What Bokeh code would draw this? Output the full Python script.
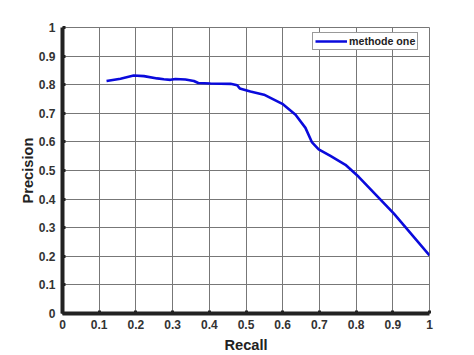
from bokeh.plotting import figure
from bokeh.models import FixedTicker, Range1d, Legend, LegendItem
from bokeh.embed import file_html
from bokeh.resources import INLINE

recall = [0.12, 0.158, 0.194, 0.222, 0.258, 0.276, 0.294, 0.308, 0.335, 0.358, 0.37, 0.403,
          0.458, 0.476, 0.483, 0.512, 0.549, 0.599, 0.635, 0.662, 0.68, 0.698, 0.73, 0.771,
          0.807, 0.903, 1.0]
precision = [0.813, 0.821, 0.832, 0.830, 0.822, 0.819, 0.817, 0.820, 0.818, 0.813, 0.806, 0.804,
             0.803, 0.798, 0.787, 0.776, 0.765, 0.733, 0.695, 0.649, 0.598, 0.574, 0.551, 0.520,
             0.478, 0.349, 0.203]
ticks = [0, 0.1, 0.2, 0.3, 0.4, 0.5, 0.6, 0.7, 0.8, 0.9, 1]
tick_labels = ["0", "0.1", "0.2", "0.3", "0.4", "0.5", "0.6", "0.7", "0.8", "0.9", "1"]
series_name = "methode one"

p = figure(width=474, height=355, output_backend="svg", toolbar_location=None,
           x_range=Range1d(0, 1), y_range=Range1d(0, 1),
           min_border_left=62, min_border_right=45, min_border_top=27, min_border_bottom=39)
p.background_fill_color = "white"
p.border_fill_color = "white"
p.outline_line_color = "#777777"
p.outline_line_width = 1

r = p.line(recall, precision, line_color="#0a0adc", line_width=2.6)

font = "Liberation Sans"
overrides = {t: l for t, l in zip(ticks, tick_labels)}
for ax in (p.xaxis[0], p.yaxis[0]):
    ax.ticker = FixedTicker(ticks=ticks)
    ax.major_label_overrides = overrides
    ax.axis_line_width = 4
    ax.axis_line_color = "#222222"
    ax.major_tick_in = 3
    ax.major_tick_out = 0
    ax.major_tick_line_width = 3
    ax.major_tick_line_color = "#222222"
    ax.minor_tick_line_color = None
    ax.major_label_text_font = font
    ax.major_label_text_font_style = "bold"
    ax.major_label_text_font_size = "9pt"
    ax.major_label_text_color = "#333333"
    ax.axis_label_text_font = font
    ax.axis_label_text_font_style = "bold"
    ax.axis_label_text_font_size = "11pt"
    ax.axis_label_text_color = "#222222"

p.xaxis.axis_label = "Recall"
p.yaxis.axis_label = "Precision"
p.xaxis.major_label_standoff = 6
p.yaxis.major_label_standoff = 7
p.xaxis.axis_label_standoff = 5
p.yaxis.axis_label_standoff = 0

p.grid.grid_line_color = "#777777"
p.grid.grid_line_width = 1
p.grid.ticker = FixedTicker(ticks=ticks)

legend = Legend(items=[LegendItem(label=series_name, renderers=[r])],
                location=(250, 263), orientation="vertical")
legend.label_text_font = font
legend.label_text_font_style = "bold"
legend.label_text_font_size = "8pt"
legend.label_text_color = "#222222"
legend.border_line_color = "#333333"
legend.border_line_width = 1
legend.padding = 2
legend.margin = 0
legend.glyph_width = 32
legend.glyph_height = 12
legend.label_standoff = 2
legend.background_fill_alpha = 1
p.add_layout(legend, "center")

open("out.html", "w").write(file_html(p, INLINE))
